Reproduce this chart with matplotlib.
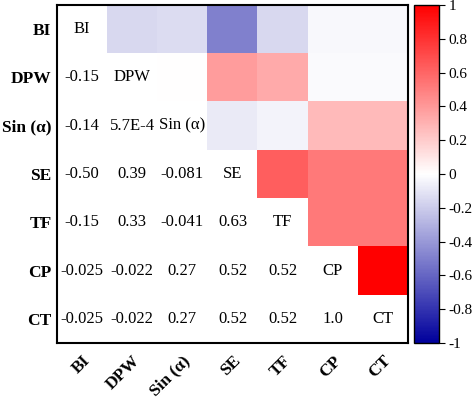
import numpy as np
import matplotlib
matplotlib.use("Agg")
import matplotlib.pyplot as plt
from matplotlib.colors import LinearSegmentedColormap

labels = ["BI", "DPW", "Sin (α)", "SE", "TF", "CP", "CT"]
# lower-triangle correlation values (row i, columns 0..i-1)
corr_lower = [
    [],
    [-0.15],
    [-0.14, 5.7e-4],
    [-0.50, 0.39, -0.081],
    [-0.15, 0.33, -0.041, 0.63],
    [-0.025, -0.022, 0.27, 0.52, 0.52],
    [-0.025, -0.022, 0.27, 0.52, 0.52, 1.0],
]
corr_text = [
    [],
    ["-0.15"],
    ["-0.14", "5.7E-4"],
    ["-0.50", "0.39", "-0.081"],
    ["-0.15", "0.33", "-0.041", "0.63"],
    ["-0.025", "-0.022", "0.27", "0.52", "0.52"],
    ["-0.025", "-0.022", "0.27", "0.52", "0.52", "1.0"],
]
cbar_ticks = [-1, -0.8, -0.6, -0.4, -0.2, 0, 0.2, 0.4, 0.6, 0.8, 1]
cbar_ticklabels = ["-1", "-0.8", "-0.6", "-0.4", "-0.2", "0", "0.2", "0.4", "0.6", "0.8", "1"]

plt.rcParams["font.family"] = ["Liberation Serif", "DejaVu Serif"]

n = len(labels)
M = np.full((n, n), np.nan)
for i in range(n):
    for j, v in enumerate(corr_lower[i]):
        M[j, i] = v  # upper triangle colored

cmap = LinearSegmentedColormap.from_list("c", ["#00009C", "#ffffff", "#ff0000"])
cmap.set_bad("white")

fig = plt.figure(figsize=(4.74, 3.99), dpi=100)
ax = fig.add_axes([57/474, 56/399, 351/474, 338/399])
cax = fig.add_axes([414/474, 56/399, 25/474, 338/399])

for k in range(1, n):
    ax.axhline(k - 0.5, color="#dcdcdc", lw=0.9, zorder=1)
    ax.axvline(k - 0.5, color="#dcdcdc", lw=0.9, zorder=1)
im = ax.imshow(np.ma.masked_invalid(M), cmap=cmap, vmin=-1, vmax=1, aspect="auto",
               extent=(-0.5, n - 0.5, n - 0.5, -0.5), interpolation="nearest", zorder=2)

for i in range(n):
    ax.text(i, i, labels[i], ha="center", va="center", fontsize=12)
    for j, t in enumerate(corr_text[i]):
        ax.text(j, i, t, ha="center", va="center", fontsize=12)

ax.set_xlim(-0.5, n - 0.5)
ax.set_ylim(n - 0.5, -0.5)
ax.set_xticks(range(n))
ax.set_yticks(range(n))
ax.set_yticklabels(labels, fontsize=12.5, fontweight="bold")
ax.set_xticklabels(labels, fontsize=12.5, fontweight="bold", rotation=45,
                   ha="right", va="top", rotation_mode="anchor")
ax.tick_params(axis="y", length=0, pad=4)
ax.tick_params(axis="x", length=0, pad=7)
for s in ax.spines.values():
    s.set_linewidth(1.5)
    s.set_color("black")

cb = fig.colorbar(im, cax=cax)
cb.set_ticks(cbar_ticks)
cb.set_ticklabels(cbar_ticklabels)
cb.ax.tick_params(labelsize=11, length=4, width=0.8, pad=3)
cb.outline.set_linewidth(1.0)

fig.savefig("out.png", dpi=100)
